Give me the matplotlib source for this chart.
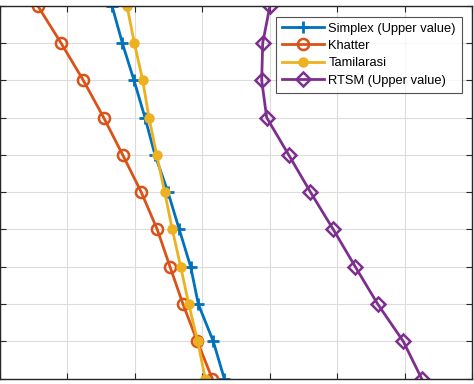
import matplotlib
matplotlib.use("Agg")
import matplotlib.pyplot as plt
import numpy as np

# Data (x values, y = level index from top to bottom)
levels = list(range(11))
simplex = [1.659, 1.812, 1.985, 2.148, 2.296, 2.489, 2.656, 2.825, 2.938, 3.160, 3.323]
khatter = [0.558, 0.904, 1.234, 1.536, 1.818, 2.093, 2.330, 2.519, 2.711, 2.923, 3.145]
tamilarasi = [1.881, 1.990, 2.114, 2.207, 2.321, 2.440, 2.553, 2.677, 2.796, 2.929, 3.041]
rtsm = [4.000, 3.892, 3.877, 3.951, 4.277, 4.600, 4.938, 5.264, 5.596, 5.975, 6.247]
labels = ["Simplex (Upper value)", "Khatter", "Tamilarasi", "RTSM (Upper value)"]

plt.rcParams['font.family'] = ['Liberation Sans', 'DejaVu Sans']

fig = plt.figure(figsize=(4.74, 3.84), dpi=100)
ax = fig.add_axes([0.0, 0.0138, 0.9968, 0.9714])

lw = 2.0
ax.plot(simplex, levels, color='#0072BD', lw=lw, marker='+', ms=9, mew=2, label=labels[0])
ax.plot(khatter, levels, color='#D95319', lw=lw, marker='o', ms=8, mfc='none', mew=1.8, label=labels[1])
ax.plot(tamilarasi, levels, color='#EDB120', lw=lw, marker='.', ms=13, label=labels[2])
ax.plot(rtsm, levels, color='#7E2F8E', lw=lw, marker='D', ms=7, mfc='none', mew=1.8, label=labels[3])

ax.set_xlim(0, 7)
ax.set_ylim(10, 0)
ax.set_xticks(np.arange(0, 8, 1))
ax.set_yticks(np.arange(0, 11, 1))
ax.set_xticklabels([])
ax.set_yticklabels([])
ax.grid(True, color='#dcdcdc', lw=0.8)
ax.set_axisbelow(True)
ax.tick_params(direction='in', top=True, right=True, length=4, color='#262626', width=0.8)
for s in ax.spines.values():
    s.set_color('#262626')
    s.set_linewidth(1.0)

leg = ax.legend(loc='upper right', fontsize=9.3, frameon=True, fancybox=False,
                edgecolor='#262626', handlelength=3.25, borderaxespad=0.85,
                labelspacing=0.42, handletextpad=0.35, borderpad=0.45)
leg.get_frame().set_linewidth(0.8)

fig.savefig('out.png', dpi=100)
